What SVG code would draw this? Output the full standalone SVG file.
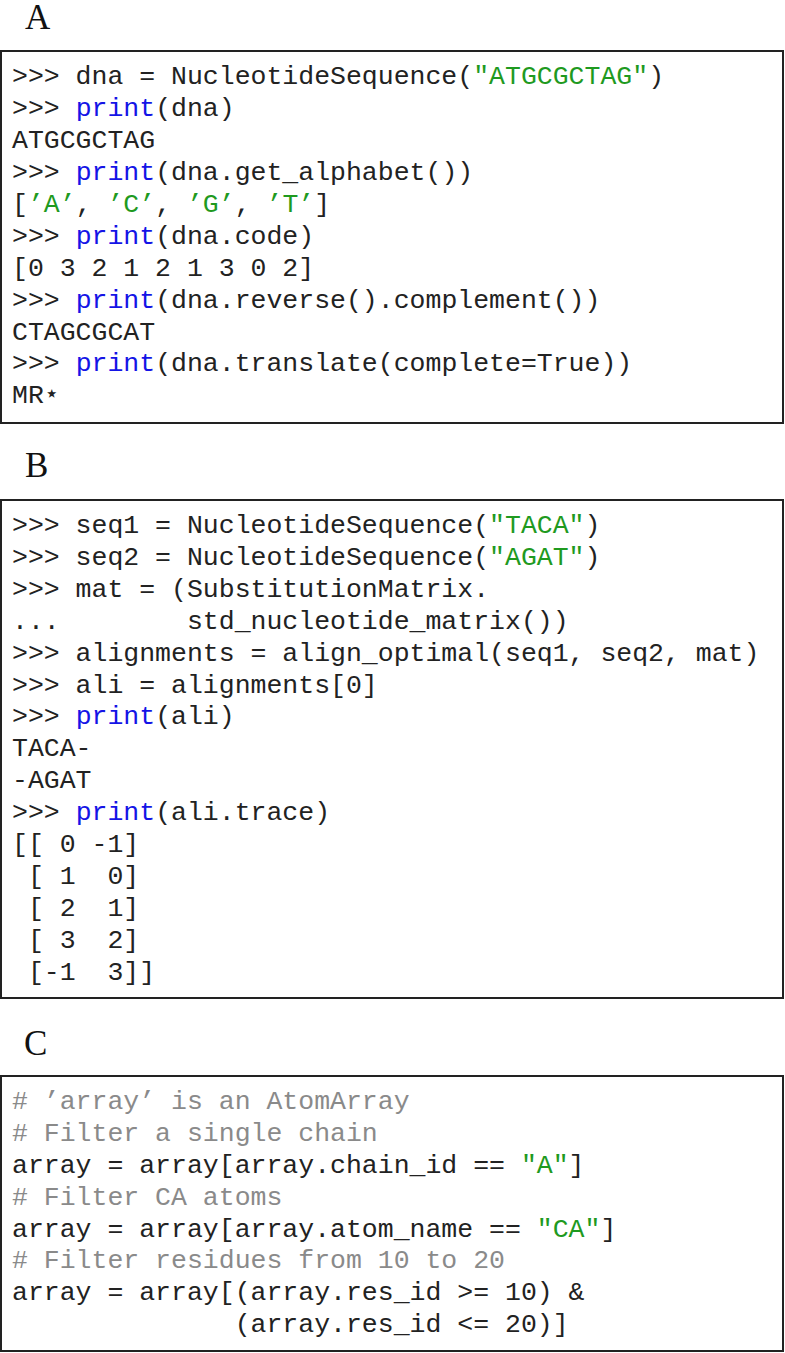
<svg xmlns="http://www.w3.org/2000/svg" width="785" height="1353" viewBox="0 0 785 1353">
<style>
.box{fill:#fff;stroke:#222;stroke-width:2}
.lbl{font-family:"Liberation Serif",serif;font-size:35px;fill:#111}
.code{font-family:"Liberation Mono",monospace;font-size:26.5px;fill:#222;white-space:pre}
.k{fill:#1414e6}.s{fill:#1f9a1f}.c{fill:#8a8a8a}
</style>
<rect width="785" height="1353" fill="#fff"/>
<g id="panelA">
<text class="lbl" x="25" y="29">A</text>
<rect class="box" x="1" y="51" width="782" height="372"/>
<text class="code" xml:space="preserve">
<tspan x="12" y="84">&gt;&gt;&gt; dna = NucleotideSequence(<tspan class="s">"ATGCGCTAG"</tspan>)</tspan>
<tspan x="12" y="116">&gt;&gt;&gt; <tspan class="k">print</tspan>(dna)</tspan>
<tspan x="12" y="148">ATGCGCTAG</tspan>
<tspan x="12" y="180">&gt;&gt;&gt; <tspan class="k">print</tspan>(dna.get_alphabet())</tspan>
<tspan x="12" y="212">[<tspan class="s">’A’</tspan>, <tspan class="s">’C’</tspan>, <tspan class="s">’G’</tspan>, <tspan class="s">’T’</tspan>]</tspan>
<tspan x="12" y="244">&gt;&gt;&gt; <tspan class="k">print</tspan>(dna.code)</tspan>
<tspan x="12" y="276">[0 3 2 1 2 1 3 0 2]</tspan>
<tspan x="12" y="308">&gt;&gt;&gt; <tspan class="k">print</tspan>(dna.reverse().complement())</tspan>
<tspan x="12" y="340">CTAGCGCAT</tspan>
<tspan x="12" y="371">&gt;&gt;&gt; <tspan class="k">print</tspan>(dna.translate(complete=True))</tspan>
<tspan x="12" y="403">MR⋆</tspan>
</text>
</g>
<g id="panelB">
<text class="lbl" x="25" y="477">B</text>
<rect class="box" x="1" y="500" width="782" height="498"/>
<text class="code" xml:space="preserve">
<tspan x="12" y="533">&gt;&gt;&gt; seq1 = NucleotideSequence(<tspan class="s">"TACA"</tspan>)</tspan>
<tspan x="12" y="565">&gt;&gt;&gt; seq2 = NucleotideSequence(<tspan class="s">"AGAT"</tspan>)</tspan>
<tspan x="12" y="597">&gt;&gt;&gt; mat = (SubstitutionMatrix.</tspan>
<tspan x="12" y="629">...        std_nucleotide_matrix())</tspan>
<tspan x="12" y="661">&gt;&gt;&gt; alignments = align_optimal(seq1, seq2, mat)</tspan>
<tspan x="12" y="693">&gt;&gt;&gt; ali = alignments[0]</tspan>
<tspan x="12" y="724">&gt;&gt;&gt; <tspan class="k">print</tspan>(ali)</tspan>
<tspan x="12" y="756">TACA-</tspan>
<tspan x="12" y="788">-AGAT</tspan>
<tspan x="12" y="820">&gt;&gt;&gt; <tspan class="k">print</tspan>(ali.trace)</tspan>
<tspan x="12" y="852">[[ 0 -1]</tspan>
<tspan x="12" y="884"> [ 1  0]</tspan>
<tspan x="12" y="916"> [ 2  1]</tspan>
<tspan x="12" y="948"> [ 3  2]</tspan>
<tspan x="12" y="980"> [-1  3]]</tspan>
</text>
</g>
<g id="panelC">
<text class="lbl" x="24" y="1055">C</text>
<rect class="box" x="1" y="1076" width="782" height="275"/>
<text class="code" xml:space="preserve">
<tspan x="12" y="1109" class="c"># ’array’ is an AtomArray</tspan>
<tspan x="12" y="1141" class="c"># Filter a single chain</tspan>
<tspan x="12" y="1173">array = array[array.chain_id == <tspan class="s">"A"</tspan>]</tspan>
<tspan x="12" y="1205" class="c"># Filter CA atoms</tspan>
<tspan x="12" y="1237">array = array[array.atom_name == <tspan class="s">"CA"</tspan>]</tspan>
<tspan x="12" y="1268" class="c"># Filter residues from 10 to 20</tspan>
<tspan x="12" y="1300">array = array[(array.res_id &gt;= 10) &amp;</tspan>
<tspan x="12" y="1332">              (array.res_id &lt;= 20)]</tspan>
</text>
</g>
</svg>
